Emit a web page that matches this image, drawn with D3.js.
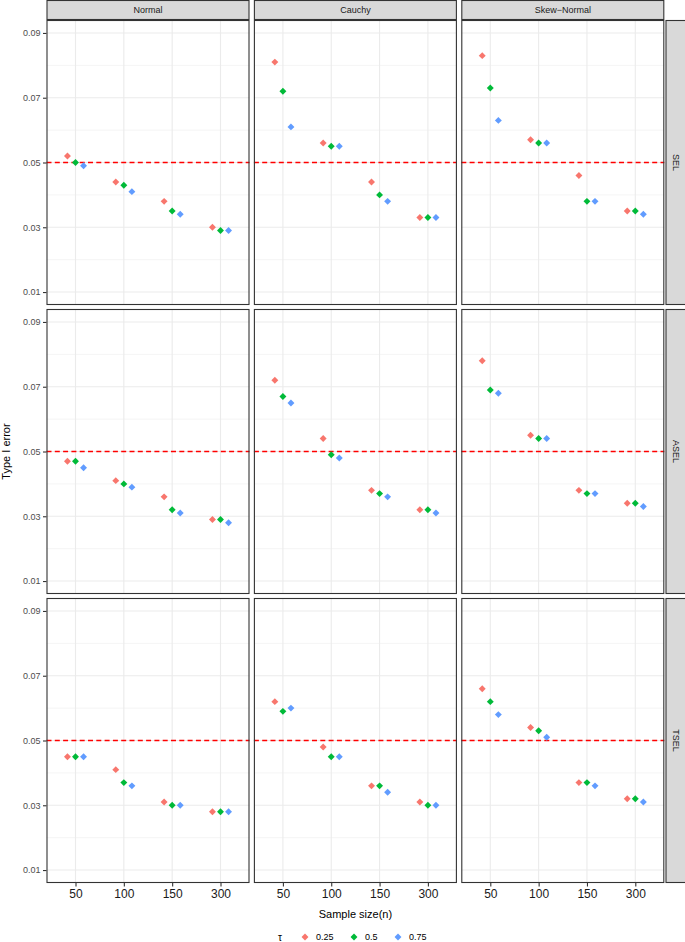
<!DOCTYPE html>
<html>
<head>
<meta charset="utf-8">
<script src="https://cdn.jsdelivr.net/npm/d3@7"></script>
<style>
  html, body { margin: 0; padding: 0; background: #fff; }
  svg { display: block; font-family: "Liberation Sans", Arial, Helvetica, sans-serif; }
</style>
</head>
<body>
<svg id="chart" width="685" height="942"></svg>
<script>
// ---- data ----
const sampleSizes = ["50", "100", "150", "300"];
const taus = ["0.25", "0.5", "0.75"];
const distributions = ["Normal", "Cauchy", "Skew\u2212Normal"];
const lossFunctions = ["SEL", "ASEL", "TSEL"];
const yTicks = [0.01, 0.03, 0.05, 0.07, 0.09];
const yMinor = [0.02, 0.04, 0.06, 0.08];
const nominalLevel = 0.05;

// each array: rows = tau (0.25, 0.5, 0.75), columns = sample size (50, 100, 150, 300)
const SEL_Normal = [[0.052, 0.044, 0.038, 0.030], [0.050, 0.043, 0.035, 0.029], [0.049, 0.041, 0.034, 0.029]];
const SEL_Cauchy = [[0.081, 0.056, 0.044, 0.033], [0.072, 0.055, 0.040, 0.033], [0.061, 0.055, 0.038, 0.033]];
const SEL_Skew   = [[0.083, 0.057, 0.046, 0.035], [0.073, 0.056, 0.038, 0.035], [0.063, 0.056, 0.038, 0.034]];
const ASEL_Normal = [[0.047, 0.041, 0.036, 0.029], [0.047, 0.040, 0.032, 0.029], [0.045, 0.039, 0.031, 0.028]];
const ASEL_Cauchy = [[0.072, 0.054, 0.038, 0.032], [0.067, 0.049, 0.037, 0.032], [0.065, 0.048, 0.036, 0.031]];
const ASEL_Skew   = [[0.078, 0.055, 0.038, 0.034], [0.069, 0.054, 0.037, 0.034], [0.068, 0.054, 0.037, 0.033]];
const TSEL_Normal = [[0.045, 0.041, 0.031, 0.028], [0.045, 0.037, 0.030, 0.028], [0.045, 0.036, 0.030, 0.028]];
const TSEL_Cauchy = [[0.062, 0.048, 0.036, 0.031], [0.059, 0.045, 0.036, 0.030], [0.060, 0.045, 0.034, 0.030]];
const TSEL_Skew   = [[0.066, 0.054, 0.037, 0.032], [0.062, 0.053, 0.037, 0.032], [0.058, 0.051, 0.036, 0.031]];

const panelData = [
  [SEL_Normal, SEL_Cauchy, SEL_Skew],
  [ASEL_Normal, ASEL_Cauchy, ASEL_Skew],
  [TSEL_Normal, TSEL_Cauchy, TSEL_Skew]
];
const tauColors = ["#F8766D", "#00BA38", "#619CFF"];

// ---- layout ----
const svg = d3.select("#chart");
const leftX = 46.5, panelW = 203, gapX = 4.4;
const topY = 20, panelH = 285, gapY = 4;
const stripH = 19.5, stripW = 20;
const border = "#333333";

const yScale = d3.scaleLinear().domain([0.006, 0.094]).range([panelH, 0]);
const xScale = d3.scalePoint().domain(sampleSizes).range([0, panelW]).padding(0.6);
const step = xScale.step();
const dodge = d3.scalePoint().domain(taus).range([-step * 0.5 / 3, step * 0.5 / 3]);
const colorScale = d3.scaleOrdinal().domain(taus).range(tauColors);

const diamond = d3.symbol().type(d3.symbolSquare).size(24);

lossFunctions.forEach((loss, r) => {
  distributions.forEach((dist, c) => {
    const px = leftX + c * (panelW + gapX);
    const py = topY + r * (panelH + gapY);
    const g = svg.append("g").attr("transform", `translate(${px},${py})`);

    g.append("rect").attr("width", panelW).attr("height", panelH).attr("fill", "#fff");
    g.selectAll(".ymin").data(yMinor).join("line")
      .attr("x1", 0).attr("x2", panelW)
      .attr("y1", d => yScale(d)).attr("y2", d => yScale(d))
      .attr("stroke", "#EBEBEB").attr("stroke-width", 0.55);
    g.selectAll(".ymaj").data(yTicks).join("line")
      .attr("x1", 0).attr("x2", panelW)
      .attr("y1", d => yScale(d)).attr("y2", d => yScale(d))
      .attr("stroke", "#EBEBEB").attr("stroke-width", 1.1);
    g.selectAll(".xmaj").data(sampleSizes).join("line")
      .attr("x1", d => xScale(d)).attr("x2", d => xScale(d))
      .attr("y1", 0).attr("y2", panelH)
      .attr("stroke", "#EBEBEB").attr("stroke-width", 1.1);

    g.append("line")
      .attr("x1", 0).attr("x2", panelW)
      .attr("y1", yScale(nominalLevel)).attr("y2", yScale(nominalLevel))
      .attr("stroke", "#FF0000").attr("stroke-width", 1.3)
      .attr("stroke-dasharray", "5,3.3");

    const vals = panelData[r][c];
    const pts = [];
    taus.forEach((t, ti) => {
      sampleSizes.forEach((s, si) => pts.push({ tau: t, size: s, value: vals[ti][si] }));
    });
    g.selectAll(".pt").data(pts).join("path")
      .attr("d", diamond)
      .attr("transform", d => `translate(${xScale(d.size) + dodge(d.tau)},${yScale(d.value)}) rotate(45)`)
      .attr("fill", d => colorScale(d.tau));

    g.append("rect").attr("x", 0.5).attr("y", 0.5)
      .attr("width", panelW - 1).attr("height", panelH - 1)
      .attr("fill", "none").attr("stroke", border).attr("stroke-width", 1.1);

    if (r === 0) {
      const sg = svg.append("g").attr("transform", `translate(${px},0)`);
      sg.append("rect").attr("x", 0.5).attr("y", 0.5).attr("width", panelW - 1).attr("height", stripH - 0.5)
        .attr("fill", "#D9D9D9").attr("stroke", border).attr("stroke-width", 1.1);
      sg.append("text").attr("x", panelW / 2).attr("y", stripH / 2 + 0.5)
        .attr("text-anchor", "middle").attr("dominant-baseline", "central")
        .attr("font-size", 9).attr("fill", "#1A1A1A").text(dist);
    }
    if (c === 2) {
      const sx = px + panelW + 1.2;
      const sg = svg.append("g").attr("transform", `translate(${sx},${py})`);
      sg.append("rect").attr("x", 0.5).attr("y", 0.5).attr("width", stripW + 4).attr("height", panelH - 1)
        .attr("fill", "#D9D9D9").attr("stroke", border).attr("stroke-width", 1.1);
      sg.append("text")
        .attr("transform", `translate(${stripW / 2 + 0.5},${panelH / 2}) rotate(90)`)
        .attr("text-anchor", "middle").attr("dominant-baseline", "central")
        .attr("font-size", 9).attr("fill", "#1A1A1A").text(loss);
    }
    if (c === 0) {
      const ya = svg.append("g").attr("transform", `translate(${px},${py})`)
        .call(d3.axisLeft(yScale).tickValues(yTicks).tickFormat(d3.format(".2f")).tickSize(3.5).tickPadding(2.5));
      ya.select(".domain").remove();
      ya.selectAll(".tick line").attr("stroke", border).attr("stroke-width", 1.1);
      ya.selectAll(".tick text").attr("font-size", 9).attr("fill", "#4D4D4D")
        .attr("font-family", "Liberation Sans, Arial, sans-serif");
    }
    if (r === 2) {
      const xa = svg.append("g").attr("transform", `translate(${px},${py + panelH})`)
        .call(d3.axisBottom(xScale).tickSize(3.5).tickPadding(3));
      xa.select(".domain").remove();
      xa.selectAll(".tick line").attr("stroke", border).attr("stroke-width", 1.1);
      xa.selectAll(".tick text").attr("font-size", 12).attr("fill", "#1A1A1A")
        .attr("font-family", "Liberation Sans, Arial, sans-serif");
    }
  });
});

const plotLeft = leftX, plotRight = leftX + 3 * panelW + 2 * gapX;
svg.append("text").attr("x", (plotLeft + plotRight) / 2).attr("y", 914)
  .attr("text-anchor", "middle").attr("dominant-baseline", "central")
  .attr("font-size", 11).attr("fill", "#000").text("Sample size(n)");
svg.append("text")
  .attr("transform", `translate(6,${topY + (3 * panelH + 2 * gapY) / 2}) rotate(-90)`)
  .attr("text-anchor", "middle").attr("dominant-baseline", "central")
  .attr("font-size", 11).attr("fill", "#000").text("Type I error");

const lg = svg.append("g").attr("transform", "translate(0,937)");
lg.append("text").attr("x", 280).attr("y", 0).attr("text-anchor", "middle").attr("dominant-baseline", "central")
  .attr("font-size", 10).text("\u03C4");
const legendX = [305, 354, 398];
taus.forEach((t, i) => {
  lg.append("path").attr("d", diamond)
    .attr("transform", `translate(${legendX[i]},0) rotate(45)`)
    .attr("fill", colorScale(t));
  lg.append("text").attr("x", legendX[i] + 11).attr("y", 0).attr("dominant-baseline", "central")
    .attr("font-size", 9).attr("fill", "#000").text(t);
});
</script>
</body>
</html>
